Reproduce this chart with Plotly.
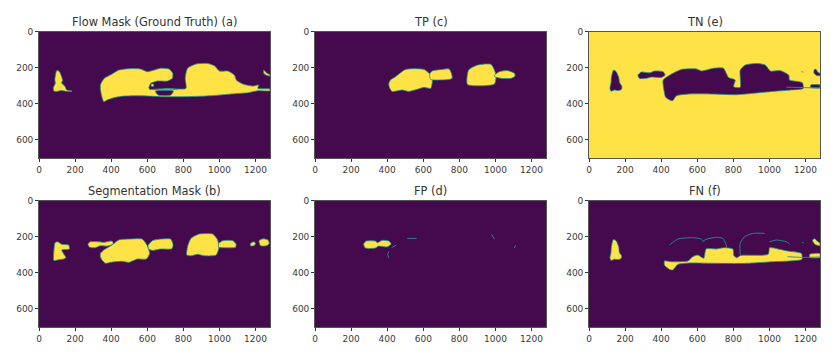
import plotly.graph_objects as go

DARK = "#450a4e"
YELLOW = "#fee246"
TEAL = "#21918c"

x_ticks = [0, 200, 400, 600, 800, 1000, 1200]
y_ticks = [0, 200, 400, 600]
mask_w = 1280
mask_h = 705

# outlines, in mask coordinates (x, y)
a_main = [(359,390),(344,344),(340,297),(362,260),(405,236),(442,214),(498,206),(563,208),(600,223),
          (637,214),(674,204),(721,208),(741,232),(739,260),(712,275),(656,275),(619,288),(609,310),
          (613,321),(712,316),(814,316),(810,260),(823,204),(870,180),(935,177),(972,190),(1000,219),
          (1046,219),(1083,242),(1093,269),(1130,292),(1185,303),(1217,297),(1213,316),(1280,320),
          (1280,329),(1213,329),(1157,340),(1065,347),(953,357),(823,362),(674,362),(563,357),
          (470,359),(414,368),(377,381)]
a_left = [(98,217),(113,222),(125,250),(131,272),(125,285),(144,305),(154,325),(181,330),(181,333),
          (150,332),(120,328),(100,333),(82,330),(80,310),(90,290),(88,265)]
a_corner = [(1245,214),(1260,229),(1280,242),(1280,247),(1260,243),(1245,232)]
a_hole = [(645,331),(745,331),(730,353),(660,353)]
a_dot = [(622,292),(635,292),(635,304),(622,304)]
a_lines = [[(613,322),(690,320),(767,323)]]

b_left = [(80,321),(89,234),(104,229),(126,243),(164,247),(169,269),(126,275),(149,318),(136,325),(108,329),(85,334),(80,329)]
b_oval = [(271,242),(284,229),(331,229),(359,232),(405,225),(411,242),(377,253),(340,251),(312,262),(281,260)]
b_main = [(340,294),(359,275),(405,247),(442,219),(498,214),(572,214),(600,251),(613,294),(595,325),
          (544,325),(498,344),(461,338),(405,342),(368,349),(349,331),(340,312)]
b_mid = [(604,251),(628,223),(674,214),(730,214),(743,247),(736,268),(674,269),(628,277),(609,269)]
b_right = [(819,303),(823,256),(842,210),(888,186),(962,186),(990,219),(996,266),(981,303),(916,307),(879,299),(842,307)]
b_right2 = [(996,238),(1018,223),(1074,223),(1092,242),(1089,260),(1027,262),(996,260)]
b_small = [(1172,238),(1191,229),(1200,238),(1191,251),(1172,251)]
b_small2 = [(1219,223),(1241,212),(1269,219),(1276,238),(1260,251),(1228,251)]

c_left = [(409,288),(418,269),(446,251),(502,210),(604,210),(632,232),(650,269),(641,316),(604,310),
          (567,321),(520,333),(483,325),(427,333),(412,310)]
c_mid = [(635,236),(650,219),(706,210),(743,208),(756,232),(760,260),(743,266),(678,269),(640,266)]
c_right = [(845,294),(851,214),(901,186),(975,182),(1003,242),(994,292)]
c_right2 = [(995,242),(1022,223),(1068,217),(1105,232),(1109,247),(1087,260),(1031,260),(995,250)]

d_blob = [(269,243),(284,225),(334,225),(347,234),(372,221),(409,225),(422,242),(399,258),(353,253),(334,264),(279,264)]
d_lines = [[(411,281),(403,299),(409,321)], [(424,262),(450,247)], [(511,210),(563,210)],
           [(979,188),(994,214)], [(1111,249),(1105,264)]]

e_left = [(136,214),(150,222),(165,255),(170,285),(182,305),(180,322),(160,328),(140,325),(122,332),(116,315),(122,285),(124,255)]
e_oval = [(271,242),(290,225),(336,229),(364,219),(411,223),(422,242),(401,255),(345,253),(318,260),(279,260)]
e_main = [(411,297),(411,269),(457,236),(513,210),(596,208),(624,219),(689,204),(745,204),(773,255),
          (810,269),(801,307),(838,310),(838,214),(866,186),(931,177),(977,186),(1005,219),(1061,217),
          (1107,242),(1111,269),(1182,284),(1187,316),(1117,325),(1005,334),(819,351),(671,347),
          (559,347),(485,357),(463,385),(448,381),(425,366)]
e_strip = [(1228,297),(1280,297),(1280,312),(1228,310)]
e_corner = [(1247,214),(1256,208),(1269,227),(1280,232),(1280,244),(1262,244),(1247,232)]
e_lines = [[(1093,309),(1280,314)], [(1178,222),(1188,226)]]

f_left = [(135,216),(150,223),(165,258),(168,288),(181,308),(178,322),(160,328),(140,326),(122,333),(116,318),(122,288),(124,258)]
f_main = [(418,336),(455,340),(548,336),(575,312),(603,303),(636,321),(649,269),(705,269),(747,262),
          (797,269),(803,307),(820,318),(840,305),(993,299),(1001,262),(1047,269),(1103,281),(1177,294),
          (1180,327),(1112,336),(1019,340),(871,349),(686,349),(557,347),(492,355),(464,386),(446,383),(418,359)]
f_strip = [(1223,299),(1280,295),(1280,316),(1223,316)]
f_corner = [(1238,219),(1251,212),(1264,225),(1280,238),(1278,251),(1251,243)]
f_lines = [[(446,247),(492,214),(575,206),(622,214),(636,229)],
           [(636,229),(640,219),(705,204),(742,210),(760,247),(764,262)],
           [(838,303),(838,238),(862,201),(908,182),(973,182)],
           [(1001,229),(1038,219),(1094,229),(1112,242)],
           [(1180,232),(1190,236)],
           [(1100,312),(1177,316),(1280,314)]]

# panel: title, column, row, background value, yellow shapes, dark shapes, teal lines
panels = [
    ("Flow Mask (Ground Truth) (a)", 0, 0, 0, [a_main, a_left, a_corner, a_dot], [a_hole], a_lines),
    ("TP (c)", 1, 0, 0, [c_left, c_mid, c_right, c_right2], [], []),
    ("TN (e)", 2, 0, 1, [], [e_left, e_oval, e_main, e_strip, e_corner], e_lines),
    ("Segmentation Mask (b)", 0, 1, 0, [b_left, b_oval, b_main, b_mid, b_right, b_right2, b_small, b_small2], [], []),
    ("FP (d)", 1, 1, 0, [d_blob], [], d_lines),
    ("FN (f)", 2, 1, 0, [f_left, f_main, f_strip, f_corner], [], f_lines),
]

W, H = 836, 361
lefts = [39, 315, 589]
tops = [31.7, 200.7]
ax_w = 231
ax_h = 126.5

fig = go.Figure()
font = "DejaVu Sans"
for i, (title, col, row, bg, yellow, dark, lines) in enumerate(panels):
    n = "" if i == 0 else str(i + 1)
    xa, ya = "x" + n, "y" + n
    x0, y0 = lefts[col], tops[row]
    axis = dict(showgrid=False, zeroline=False, ticks="outside", ticklen=3, tickwidth=0.7,
                tickcolor="#333", showline=True, linecolor="#555", linewidth=0.7, mirror=True,
                tickfont=dict(family=font, size=9, color="#3a3a3a"), automargin=False)
    fig.layout["xaxis" + n] = dict(axis, domain=[x0 / W, (x0 + ax_w) / W], range=[0, mask_w],
                                   tickvals=x_ticks, anchor=ya)
    fig.layout["yaxis" + n] = dict(axis, domain=[1 - (y0 + ax_h) / H, 1 - y0 / H], range=[mask_h, 0],
                                   tickvals=y_ticks, anchor=xa)
    fig.add_trace(go.Heatmap(z=[[bg, bg], [bg, bg]], x=[0, mask_w], y=[0, mask_h], zmin=0, zmax=1,
                             colorscale=[[0, DARK], [1, YELLOW]], showscale=False,
                             hoverinfo="skip", xaxis=xa, yaxis=ya))
    for shapes, color in ((yellow, YELLOW), (dark, DARK)):
        for poly in shapes:
            xs = [p[0] for p in poly] + [poly[0][0]]
            ys = [p[1] for p in poly] + [poly[0][1]]
            fig.add_trace(go.Scatter(x=xs, y=ys, mode="lines", fill="toself", fillcolor=color,
                                     line=dict(color=TEAL, width=0.8, shape="spline", smoothing=0.6),
                                     hoverinfo="skip", showlegend=False, xaxis=xa, yaxis=ya))
    for ln in lines:
        fig.add_trace(go.Scatter(x=[p[0] for p in ln], y=[p[1] for p in ln], mode="lines",
                                 line=dict(color=TEAL, width=0.9, shape="spline", smoothing=0.6),
                                 hoverinfo="skip", showlegend=False, xaxis=xa, yaxis=ya))
    fig.add_annotation(text=title, xref="paper", yref="paper", x=(x0 + ax_w / 2) / W,
                       y=1 - (y0 - 9.5) / H, xanchor="center", yanchor="middle", showarrow=False,
                       font=dict(family=font, size=11.4, color="#333"))

fig.update_layout(width=W, height=H, margin=dict(l=0, r=0, t=0, b=0), showlegend=False,
                  paper_bgcolor="white", plot_bgcolor=DARK)
# the page's default body margin would push the figure 8px in
fig.write_html("out.html", config={"displayModeBar": False},
               post_script="document.body.style.margin='0';")
